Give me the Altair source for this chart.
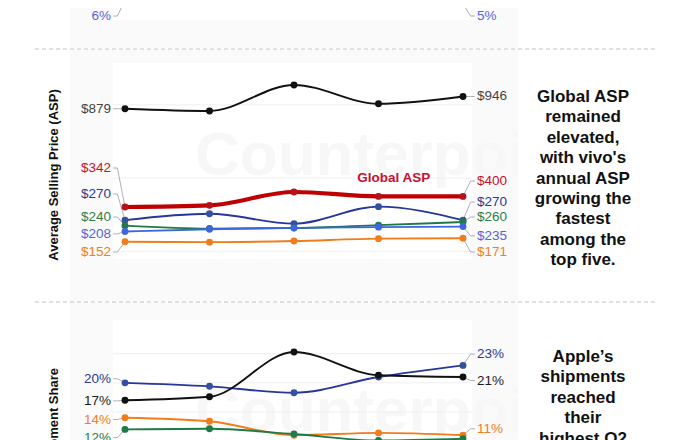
import altair as alt
import pandas as pd

# ---------------- data ----------------
QUARTERS = ["Q2 2021", "Q2 2022", "Q2 2023", "Q2 2024", "Q2 2025"]
Q = list(range(len(QUARTERS)))

# top panel (mostly cropped off in the reference)
TOP_VIVO = [5.7, 5.7, 5.2, 5.2, 5.1]
TOP_XIAOMI = [6.3, 6.4, 5.5, 5.5, 5.4]

# Average selling price (US$)
ASP_APPLE = [879, 867, 1009, 906, 946]
ASP_GLOBAL = [342, 351, 424, 400, 400]
ASP_SAMSUNG = [270, 305, 251, 344, 270]
ASP_OPPO = [240, 224, 227, 243, 260]
ASP_VIVO = [208, 220, 228, 232, 235]
ASP_XIAOMI = [152, 150, 156, 169, 171]

# Shipment share (%)
SHARE_SAMSUNG = [20, 19.4, 18.3, 21.0, 23]
SHARE_APPLE = [17, 17.6, 25.3, 21.3, 21]
SHARE_XIAOMI = [14, 13.4, 11.0, 11.4, 11]
SHARE_OPPO = [12, 12.1, 11.2, 10.1, 10.4]

ASP_GRID = [100, 500, 900]
SHARE_GRID = [10, 15, 20, 25]

# end labels: text and the value level where the label sits
TOP_LEFT = {"vivo": ("6%", 3.03)}
TOP_RIGHT = {"vivo": ("5%", 3.03)}
ASP_LEFT = {"Apple": ("$879", 879), "Global": ("$342", 555), "Samsung": ("$270", 413),
            "OPPO": ("$240", 287), "vivo": ("$208", 195), "Xiaomi": ("$152", 96)}
ASP_RIGHT = {"Apple": ("$946", 946), "Global": ("$400", 484), "Samsung": ("$270", 369),
             "OPPO": ("$260", 287), "vivo": ("$235", 184), "Xiaomi": ("$171", 96)}
SHARE_LEFT = {"Samsung": ("20%", 20.7), "Apple": ("17%", 16.9), "Xiaomi": ("14%", 13.7),
              "OPPO": ("12%", 10.6)}
SHARE_RIGHT = {"Samsung": ("23%", 24.95), "Apple": ("21%", 20.4), "Xiaomi": ("11%", 12.1)}

ASP_TEXT = "Global ASP\nremained\nelevated,\nwith vivo's\nannual ASP\ngrowing the\nfastest\namong the\ntop five."
SHARE_TEXT = "Apple\u2019s\nshipments\nreached\ntheir\nhighest Q2"

# ---------------- styles ----------------
LINE_COLORS = {"Apple": "#111111", "Global": "#c00000", "Samsung": "#27369a",
               "OPPO": "#1e7a46", "vivo": "#3f66e0", "Xiaomi": "#f07c1c"}
POINT_COLORS = {"Apple": "#111111", "Global": "#b5121b", "Samsung": "#3550a0",
                "OPPO": "#1e7a46", "vivo": "#3f66e0", "Xiaomi": "#f07c1c"}
LABEL_COLORS = {"Apple": "#444444", "Global": "#c8102e", "Samsung": "#2b3990",
                "OPPO": "#2e7d4a", "vivo": "#5566d8", "Xiaomi": "#f07d22"}

W = 670
XS = alt.Scale(domain=[-1.3846, 6.5444], nice=False, zero=False)
FONT = "Liberation Sans"
ONE = alt.Data(values=[{}])


def build_panel(height, domain, series, left, right, grid, thick=(), label_colors=None,
                white=(0, 0), watermark_y=None, title=None, title_y=None,
                side_text=None, side_y=None, separator=True, note=None):
    lc = dict(LABEL_COLORS)
    if label_colors:
        lc.update(label_colors)
    ys = alt.Scale(domain=domain, nice=False, zero=False)
    rows = []
    for name, vals in series.items():
        for q, v in zip(Q, vals):
            rows.append({"series": name, "q": q, "v": v,
                         "c": LINE_COLORS[name], "pc": POINT_COLORS[name]})
    df = pd.DataFrame(rows)

    lab, lead = [], []
    for side, spec in (("L", left), ("R", right)):
        for name, (text, at) in spec.items():
            eq = Q[0] if side == "L" else Q[-1]
            ev = series[name][eq]
            s = -1 if side == "L" else 1
            lab.append({"side": side, "text": text, "q": eq + s * 0.166, "v": at, "lc": lc[name]})
            for k, (qq, vv) in enumerate([(eq + s * 0.14, at), (eq + s * 0.09, at), (eq, ev)]):
                lead.append({"key": name + side, "k": k, "q": qq, "v": vv})
    lab_df = pd.DataFrame(lab)
    lead_df = pd.DataFrame(lead)

    X = alt.X("q:Q", scale=XS, axis=None)
    Y = alt.Y("v:Q", scale=ys, axis=None)

    layers = []
    # card background and white plot area
    layers.append(alt.Chart(ONE).mark_rect(color="#fafafa").encode(
        x=alt.value(62), x2=alt.value(510), y=alt.value(0), y2=alt.value(height)))
    layers.append(alt.Chart(ONE).mark_rect(color="#ffffff").encode(
        x=alt.value(105), x2=alt.value(464), y=alt.value(white[0]), y2=alt.value(white[1])))
    if watermark_y is not None:
        layers.append(alt.Chart(ONE).mark_text(
            text="Counterpoint", font=FONT, fontSize=62, fontWeight="bold", color="#f7f7f7",
            align="left", baseline="middle", clip=True).encode(
            x=alt.value(187), y=alt.value(watermark_y)))
        layers.append(alt.Chart(ONE).mark_rect(color="#ffffff").encode(
            x=alt.value(510), x2=alt.value(W), y=alt.value(0), y2=alt.value(height)))
    if separator:
        layers.append(alt.Chart(ONE).mark_rule(color="#c4c4c4", strokeDash=[4, 3], strokeWidth=1).encode(
            x=alt.value(27), x2=alt.value(647), y=alt.value(0)))
    if grid:
        layers.append(alt.Chart(pd.DataFrame({"g": grid})).mark_rule(color="#efefef", strokeWidth=1).encode(
            y=alt.Y("g:Q", scale=ys, axis=None), x=alt.value(105), x2=alt.value(464)))
    # leader lines
    layers.append(alt.Chart(lead_df).mark_line(color="#9a9a9a", strokeWidth=0.8, clip=True).encode(
        x=X, y=Y, detail="key:N", order="k:Q"))
    # series lines
    thin = [s for s in series if s not in thick]
    layers.append(alt.Chart(df).transform_filter(
        alt.FieldOneOfPredicate(field="series", oneOf=thin)).mark_line(
        interpolate="monotone", strokeWidth=1.9, clip=True).encode(
        x=X, y=Y, color=alt.Color("c:N", scale=None), detail="series:N"))
    if thick:
        layers.append(alt.Chart(df).transform_filter(
            alt.FieldOneOfPredicate(field="series", oneOf=list(thick))).mark_line(
            interpolate="monotone", strokeWidth=4.2, clip=True).encode(
            x=X, y=Y, color=alt.Color("c:N", scale=None), detail="series:N"))
    layers.append(alt.Chart(df).mark_circle(size=48, opacity=1, clip=True).encode(
        x=X, y=Y, color=alt.Color("pc:N", scale=None)))
    # end labels
    for side, align in (("L", "right"), ("R", "left")):
        layers.append(alt.Chart(lab_df).transform_filter(alt.datum.side == side).mark_text(
            align=align, baseline="middle", font=FONT, fontSize=13.5, clip=True).encode(
            x=X, y=Y, text="text:N", color=alt.Color("lc:N", scale=None)))
    if note:
        text, nq, nv, ncol = note
        layers.append(alt.Chart(pd.DataFrame({"q": [nq], "v": [nv], "t": [text]})).mark_text(
            font=FONT, fontSize=13.5, fontWeight="bold", color=ncol,
            align="center", baseline="middle", clip=True).encode(x=X, y=Y, text="t:N"))
    if title:
        layers.append(alt.Chart(ONE).mark_text(
            text=title, angle=270, font=FONT, fontSize=13, fontWeight="bold", color="#111111",
            align="center", baseline="middle", clip=True).encode(
            x=alt.value(46), y=alt.value(title_y)))
    if side_text:
        layers.append(alt.Chart(ONE).mark_text(
            text=side_text, lineBreak="\n", lineHeight=20.4, font=FONT, fontSize=17,
            fontWeight="bold", color="#111111", align="center", baseline="middle", clip=True).encode(
            x=alt.value(575), y=alt.value(side_y)))
    return alt.layer(*layers).properties(width=W, height=height)


top = build_panel(
    40, [-2.3, 4.37], {"vivo": TOP_VIVO, "Xiaomi": TOP_XIAOMI},
    TOP_LEFT, TOP_RIGHT, [], white=(0, 12), separator=False)

asp = build_panel(
    252, [-171.7, 1205.4],
    {"Apple": ASP_APPLE, "Global": ASP_GLOBAL, "Samsung": ASP_SAMSUNG,
     "OPPO": ASP_OPPO, "vivo": ASP_VIVO, "Xiaomi": ASP_XIAOMI},
    ASP_LEFT, ASP_RIGHT, ASP_GRID, thick=("Global",), white=(14, 210),
    watermark_y=107, title="Average Selling Price (ASP)", title_y=126,
    side_text=ASP_TEXT, side_y=48, note=("Global ASP", 3.18, 500, "#c8102e"))

share = build_panel(
    160, [6.40, 33.89],
    {"Samsung": SHARE_SAMSUNG, "Apple": SHARE_APPLE, "Xiaomi": SHARE_XIAOMI, "OPPO": SHARE_OPPO},
    SHARE_LEFT, SHARE_RIGHT, SHARE_GRID, label_colors={"Apple": "#1a1a1a"},
    white=(18, 160), watermark_y=110, title="Shipment Share", title_y=115.5,
    side_text=SHARE_TEXT, side_y=55)

chart = alt.vconcat(top, asp, share, spacing=0).properties(padding=0).configure(
    font=FONT).configure_view(stroke=None)

chart.save("out.html", embed_options={"renderer": "svg", "actions": False})
